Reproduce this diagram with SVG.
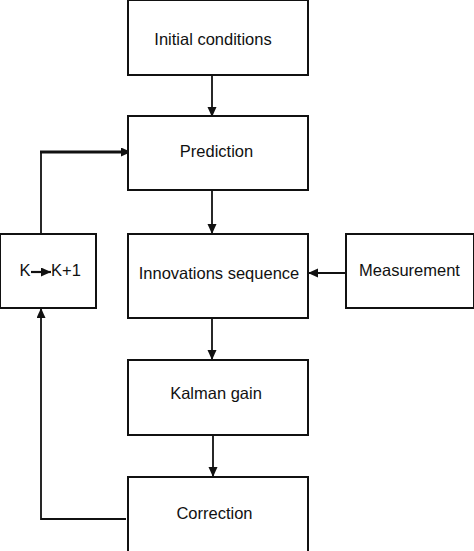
<svg xmlns="http://www.w3.org/2000/svg" width="474" height="551" viewBox="0 0 474 551">
<style>
.box{fill:#fff;stroke:#111;stroke-width:2}
.lbl{font-family:"Liberation Sans",Arial,sans-serif;font-size:16.5px;fill:#111;text-anchor:middle}
.con{fill:none;stroke:#111;stroke-width:1.8}
</style>
<defs>
<marker id="ah" markerUnits="userSpaceOnUse" markerWidth="11" markerHeight="10" refX="10" refY="4.5" orient="auto">
<path d="M0,0 L10,4.5 L0,9 z" fill="#111"/>
</marker>
</defs>
<rect width="474" height="551" fill="#fff"/>
<g id="connectors">
<path class="con" d="M212,75 V117" marker-end="url(#ah)"/>
<path class="con" d="M212,190 V234" marker-end="url(#ah)"/>
<path class="con" d="M346,273 H308" marker-end="url(#ah)"/>
<path class="con" d="M212,318 V360" marker-end="url(#ah)"/>
<path class="con" d="M213,435 V477" marker-end="url(#ah)"/>
<path class="con" d="M126,519 H41 V308" marker-end="url(#ah)"/>
<path class="con" d="M41,234 V152"/>
<path class="con" d="M40,152 H131" style="stroke-width:2.8" marker-end="url(#ah)"/>
</g>
<g id="initial">
<rect class="box" x="128" y="0" width="180" height="75"/>
<text class="lbl" x="213" y="45">Initial conditions</text>
</g>
<g id="prediction">
<rect class="box" x="128" y="116" width="180" height="74"/>
<text class="lbl" x="216.5" y="157">Prediction</text>
</g>
<g id="innovations">
<rect class="box" x="128" y="234" width="180" height="84"/>
<text class="lbl" x="219" y="279">Innovations sequence</text>
</g>
<g id="measurement">
<rect class="box" x="346" y="234" width="128" height="74"/>
<text class="lbl" x="409.5" y="276">Measurement</text>
</g>
<g id="kstep">
<rect class="box" x="0" y="234" width="96" height="74"/>
<text class="lbl" x="25" y="276">K</text>
<path d="M31,272 H51" stroke="#111" stroke-width="2.2" marker-end="url(#ah)"/>
<text class="lbl" x="66" y="276">K+1</text>
</g>
<g id="kalman">
<rect class="box" x="128" y="360" width="180" height="75"/>
<text class="lbl" x="216" y="399">Kalman gain</text>
</g>
<g id="correction">
<rect class="box" x="128" y="477" width="180" height="80"/>
<text class="lbl" x="214.5" y="518.5">Correction</text>
</g>
</svg>
